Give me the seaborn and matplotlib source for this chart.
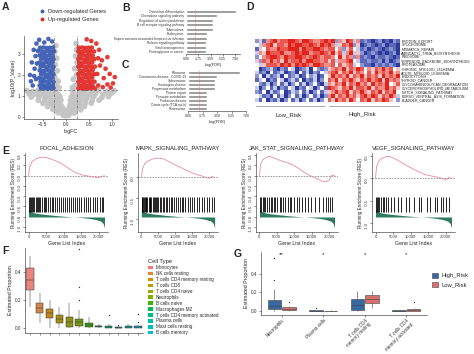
import numpy as np
import pandas as pd
import matplotlib
matplotlib.use("Agg")
import matplotlib.pyplot as plt
import seaborn as sns
from matplotlib.colors import LinearSegmentedColormap
from matplotlib.lines import Line2D
from matplotlib.patches import Patch
from matplotlib.ticker import FormatStrFormatter

# ---------------- data ----------------
# A: volcano (logFC, -log10 p)
ns_pts = [(-0.85, 1.25), (-0.72, 1.22), (-0.6, 1.27), (-0.48, 1.2), (-0.36, 1.26), (-0.22, 1.23), (0.16, 1.24),
          (0.3, 1.21), (0.42, 1.27), (0.55, 1.22), (0.7, 1.26), (0.88, 1.2), (1.05, 1.25),
          (-0.8, 1.1), (-0.65, 1.08), (-0.52, 1.12), (-0.4, 1.06), (-0.28, 1.1), (-0.17, 1.08), (0.15, 1.1),
          (0.27, 1.07), (0.38, 1.12), (0.5, 1.05), (0.64, 1.1), (0.8, 1.08), (0.98, 1.12),
          (-0.75, 0.95), (-0.58, 0.97), (-0.45, 0.93), (-0.33, 0.96), (-0.2, 0.94), (-0.13, 0.97), (0.12, 0.95),
          (0.22, 0.93), (0.34, 0.97), (0.46, 0.94), (0.6, 0.96), (0.78, 0.93), (0.92, 0.97),
          (-0.6, 0.8), (-0.46, 0.82), (-0.34, 0.78), (-0.22, 0.81), (-0.11, 0.79), (0.1, 0.8), (0.2, 0.82),
          (0.31, 0.78), (0.43, 0.81), (0.57, 0.79), (0.72, 0.8),
          (-0.5, 0.65), (-0.37, 0.66), (-0.25, 0.63), (-0.14, 0.65), (0.1, 0.64), (0.2, 0.66), (0.3, 0.63),
          (0.42, 0.65), (0.55, 0.66),
          (-0.4, 0.5), (-0.28, 0.52), (-0.17, 0.49), (-0.09, 0.5), (0.08, 0.51), (0.17, 0.49), (0.28, 0.52), (0.4, 0.5),
          (-0.28, 0.35), (-0.18, 0.36), (-0.1, 0.34), (-0.05, 0.36), (0.06, 0.35), (0.13, 0.33), (0.22, 0.36),
          (0.32, 0.34), (-0.17, 0.2), (-0.1, 0.21), (-0.04, 0.19), (0.04, 0.2), (0.1, 0.21), (0.18, 0.19),
          (-0.06, 0.08), (-0.02, 0.06), (0.02, 0.07), (0.06, 0.08),
          (-0.22, 1.5), (-0.17, 1.7), (-0.24, 1.9), (-0.19, 2.2), (-0.23, 2.5), (-0.2, 2.8), (-0.24, 3.1),
          (-0.22, 3.4), (0.2, 1.5), (0.16, 1.8), (0.23, 2.0), (0.19, 2.3), (0.24, 2.6), (0.21, 2.9), (0.23, 3.2),
          (0.22, 3.5), (-0.15, 1.4), (0.14, 1.4)]
down_pts = [(-0.56, 3.3), (-0.49, 3.31), (-0.42, 3.29), (-0.35, 3.3), (-0.28, 3.31),
            (-0.53, 3.12), (-0.46, 3.1), (-0.39, 3.14), (-0.32, 3.11), (-0.26, 3.13),
            (-0.57, 2.94), (-0.5, 2.96), (-0.43, 2.92), (-0.36, 2.95), (-0.29, 2.93),
            (-0.54, 2.76), (-0.47, 2.78), (-0.4, 2.74), (-0.33, 2.77), (-0.27, 2.75),
            (-0.58, 2.58), (-0.51, 2.56), (-0.44, 2.6), (-0.37, 2.57), (-0.3, 2.59),
            (-0.55, 2.4), (-0.48, 2.42), (-0.41, 2.38), (-0.34, 2.41), (-0.27, 2.39),
            (-0.57, 2.22), (-0.5, 2.2), (-0.43, 2.24), (-0.36, 2.21), (-0.29, 2.23),
            (-0.54, 2.04), (-0.47, 2.06), (-0.4, 2.02), (-0.33, 2.05), (-0.27, 2.03),
            (-0.58, 1.86), (-0.51, 1.84), (-0.44, 1.88), (-0.37, 1.85), (-0.3, 1.87),
            (-0.55, 1.68), (-0.48, 1.7), (-0.41, 1.66), (-0.34, 1.69), (-0.27, 1.67),
            (-0.57, 1.5), (-0.5, 1.52), (-0.43, 1.48), (-0.36, 1.51), (-0.29, 1.49),
            (-0.54, 1.36), (-0.47, 1.37), (-0.4, 1.35), (-0.33, 1.36), (-0.27, 1.38),
            (-0.64, 3.5), (-0.58, 3.68), (-0.47, 3.55), (-0.38, 3.72), (-0.7, 3.2), (-0.66, 2.9), (-0.74, 2.6),
            (-0.68, 2.3), (-0.78, 2.0), (-0.65, 1.8), (-0.72, 1.5), (-0.63, 2.55), (-0.69, 1.95), (-0.61, 3.15),
            (-0.76, 1.7), (-0.3, 3.6)]
up_pts = [(0.28, 3.3), (0.35, 3.31), (0.42, 3.29), (0.49, 3.3), (0.56, 3.31),
          (0.27, 3.12), (0.33, 3.1), (0.4, 3.14), (0.47, 3.11), (0.54, 3.13), (0.61, 3.12),
          (0.3, 2.94), (0.37, 2.96), (0.44, 2.92), (0.51, 2.95), (0.58, 2.93),
          (0.27, 2.76), (0.34, 2.78), (0.41, 2.74), (0.48, 2.77), (0.55, 2.75), (0.62, 2.76),
          (0.29, 2.58), (0.36, 2.56), (0.43, 2.6), (0.5, 2.57), (0.57, 2.59),
          (0.27, 2.4), (0.34, 2.42), (0.41, 2.38), (0.48, 2.41), (0.55, 2.39), (0.63, 2.4),
          (0.3, 2.22), (0.37, 2.2), (0.44, 2.24), (0.51, 2.21), (0.58, 2.23),
          (0.27, 2.04), (0.34, 2.06), (0.41, 2.02), (0.48, 2.05), (0.55, 2.03), (0.62, 2.04),
          (0.29, 1.86), (0.36, 1.84), (0.43, 1.88), (0.5, 1.85), (0.57, 1.87),
          (0.27, 1.68), (0.34, 1.7), (0.41, 1.66), (0.48, 1.69), (0.55, 1.67), (0.62, 1.68),
          (0.3, 1.5), (0.37, 1.52), (0.44, 1.48), (0.51, 1.51), (0.58, 1.49),
          (0.27, 1.36), (0.34, 1.37), (0.41, 1.35), (0.48, 1.36), (0.55, 1.38), (0.63, 1.36),
          (0.72, 3.2), (0.78, 2.7), (0.86, 2.3), (0.95, 2.05), (0.82, 1.85), (1.02, 1.6), (0.7, 1.5), (0.9, 2.85),
          (0.66, 3.5), (0.55, 3.62), (0.74, 2.45), (1.06, 1.9), (0.68, 2.05), (0.8, 1.42), (0.9, 1.55),
          (0.45, 3.7), (0.7, 2.8), (0.97, 1.4)]

# B / C: KEGG enrichment
b_terms = ["Osteoclast differentiation", "Chemokine signaling pathway", "Regulation of actin cytoskeleton",
           "B cell receptor signaling pathway", "Tuberculosis", "Endocytosis",
           "Kaposi sarcoma-associated herpesvirus infection", "Relaxin signaling pathway",
           "Viral carcinogenesis", "Proteoglycans in cancer"]
b_vals = [7.2, 4.4, 3.9, 3.9, 3.85, 2.95, 2.95, 2.9, 2.9, 2.9]
c_terms = ["Ribosome", "Coronavirus disease - COVID-19", "Spliceosome", "Huntington disease",
           "Propanoate metabolism", "Protein export", "Pyruvate metabolism", "Parkinson disease",
           "Citrate cycle (TCA cycle)", "Proteasome"]
c_vals = [6.3, 3.5, 3.2, 3.2, 3.2, 2.35, 2.3, 2.3, 2.3, 2.3]

# D: GSVA heatmap, 0 = deep blue, 4 = white, 8 = deep red (20 Low_Risk + 20 High_Risk samples)
d_rows = ["PROTEIN_EXPORT", "SPLICEOSOME", "MISMATCH_REPAIR", "AMINOACYL_TRNA_BIOSYNTHESIS", "RIBOSOME",
          "TERPENOID_BACKBONE_BIOSYNTHESIS", "PROTEASOME", "CHRONIC_MYELOID_LEUKEMIA",
          "ACUTE_MYELOID_LEUKEMIA", "ENDOCYTOSIS", "THYROID_CANCER", "GLYCOSAMINOGLYCAN_DEGRADATION",
          "GLYCEROPHOSPHOLIPID_METABOLISM", "NOTCH_SIGNALING_PATHWAY", "DORSO_VENTRAL_AXIS_FORMATION",
          "BLADDER_CANCER"]
heat_rows = ["25167867788768876678" "78265873612101201021",
             "43678577687887787687" "86357682501210120110",
             "15476687788868778876" "77462574312012101210",
             "36587778667878867787" "68573683520121010120",
             "24678876877887678767" "76485762612102112101",
             "52768675867786887767" "57366784311211202012",
             "43577768786878768876" "67475673421102121210",
             "40123102143012304212" "56768576874657686745",
             "31204123012041302143" "67857685764758676856",
             "24031230412301423014" "58676857685767586768",
             "13402143023140213024" "76857686576867858676",
             "42130241302413024103" "65768576867586768457",
             "30241302143021430241" "87657685776857668675",
             "21403124013241302413" "56867857686576857684",
             "43120413024130241302" "68576867578687576863",
             "31402130241302413024" "75867586476857687542"]

# E: GSEA running enrichment score
gsea_titles = ["FOCAL_ADHESION", "MAPK_SIGNALING_PATHWAY", "JAK_STAT_SIGNALING_PATHWAY", "VEGF_SIGNALING_PATHWAY"]
es_index = [0, 300, 1000, 2000, 3000, 4000, 5000, 6500, 8000, 9500, 11000, 12500, 14000, 15500, 17000,
            18000, 19000, 20000, 20800, 21600]
es_focal = [0, 0.16, 0.27, 0.32, 0.35, 0.36, 0.35, 0.32, 0.28, 0.23, 0.16, 0.09, 0.04, 0.01, -0.01,
            -0.03, -0.03, -0.04, -0.02, 0.0]
es_mapk = [0, 0.2, 0.33, 0.39, 0.43, 0.45, 0.46, 0.44, 0.38, 0.32, 0.26, 0.2, 0.14, 0.09, 0.05,
           0.03, 0.0, -0.02, 0.02, 0.0]
es_jak = [0, 0.22, 0.31, 0.36, 0.37, 0.35, 0.32, 0.28, 0.25, 0.21, 0.15, 0.08, 0.02, -0.03, -0.08,
          -0.11, -0.12, -0.1, 0.01, 0.0]
es_vegf = [0, 0.27, 0.4, 0.46, 0.49, 0.49, 0.46, 0.4, 0.33, 0.26, 0.2, 0.14, 0.09, 0.06, 0.04,
           0.02, 0.0, -0.03, 0.02, 0.0]
hits_focal = [150, 400, 700, 900, 1300, 1600, 2000, 2300, 2700, 3100, 3400, 3800, 4300, 4700, 5100, 5600,
              6200, 6700, 7100, 7600, 8200, 8700, 9300, 9800, 10400, 10900, 11500, 12000, 12600, 13100,
              13800, 14400, 15000, 15700, 16300, 17000, 17600, 18300, 19000, 19600, 20200, 20800, 21300]
hits_mapk = [100, 300, 550, 800, 1000, 1300, 1500, 1800, 2100, 2400, 2600, 2900, 3300, 3600, 4000, 4300,
             4700, 5000, 5400, 5900, 6300, 6800, 7200, 7700, 8100, 8600, 9100, 9700, 10200, 10800, 11300,
             11900, 12400, 13000, 13700, 14300, 15000, 15600, 16300, 17100, 17800, 18500, 19300, 20000,
             20700, 21300]
hits_jak = [200, 500, 900, 1200, 1700, 2100, 2600, 3200, 3700, 4100, 4400, 5000, 5800, 6300, 6900, 7400,
            8100, 8800, 9200, 9900, 10700, 11400, 12200, 13100, 14000, 14900, 16000, 17200, 18400, 19200,
            19700, 20300, 20900]
hits_vegf = [150, 450, 800, 1100, 1500, 2000, 2500, 3000, 3600, 4500, 5300, 6500, 7200, 8600, 9400, 10800,
             12300, 13000, 14500, 15500, 16800, 17400, 18600, 19300, 20100, 20800]
rank_index = [0, 200, 600, 1500, 3000, 5000, 8000, 11000, 13000, 15000, 17000, 19000, 20500, 21200, 21600]
rank_metric = [1.0, 0.78, 0.6, 0.46, 0.36, 0.27, 0.15, 0.05, 0.0, -0.06, -0.14, -0.27, -0.45, -0.7, -1.2]

# F: immune cell proportions
f_cells = ["Monocytes", "NK cells resting", "T cells CD4 memory resting", "T cells CD8", "T cells CD4 naive",
           "Neutrophils", "B cells naive", "Macrophages M2", "T cells CD4 memory activated", "Plasma cells",
           "Mast cells resting", "B cells memory"]
f_values = [
    [0.15, 0.20, 0.24, 0.27, 0.29, 0.31, 0.34, 0.37, 0.40, 0.43, 0.46, 0.49, 0.51],
    [0.035, 0.07, 0.09, 0.11, 0.12, 0.13, 0.14, 0.15, 0.16, 0.18, 0.20, 0.22, 0.25],
    [0.0, 0.03, 0.05, 0.07, 0.08, 0.095, 0.105, 0.115, 0.125, 0.135, 0.15, 0.17, 0.20],
    [0.0, 0.01, 0.025, 0.036, 0.045, 0.055, 0.064, 0.072, 0.082, 0.093, 0.11, 0.13, 0.15],
    [0.0, 0.002, 0.005, 0.01, 0.02, 0.035, 0.045, 0.055, 0.068, 0.08, 0.1, 0.14, 0.18],
    [0.0, 0.004, 0.008, 0.012, 0.015, 0.025, 0.033, 0.04, 0.045, 0.052, 0.058, 0.062, 0.065, 0.13, 0.2, 0.29, 0.56],
    [0.0, 0.001, 0.003, 0.005, 0.01, 0.015, 0.02, 0.024, 0.03, 0.035, 0.045, 0.06, 0.078],
    [0.0, 0.002, 0.004, 0.005, 0.008, 0.01, 0.012, 0.014, 0.016, 0.018, 0.022, 0.026, 0.03],
    [0.0, 0.001, 0.002, 0.004, 0.006, 0.008, 0.01, 0.012, 0.015, 0.018, 0.022, 0.028, 0.093],
    [0.0, 0.0, 0.0005, 0.001, 0.002, 0.003, 0.004, 0.005, 0.006, 0.008, 0.01, 0.014, 0.022],
    [0.0, 0.0, 0.001, 0.002, 0.004, 0.006, 0.008, 0.01, 0.012, 0.015, 0.018, 0.024, 0.03],
    [0.0, 0.0, 0.001, 0.002, 0.004, 0.006, 0.008, 0.01, 0.012, 0.015, 0.022, 0.04, 0.10],
]
f_colors = ["#F8766D", "#EA8331", "#D89000", "#C09B00", "#A3A500", "#7CAE00", "#39B600", "#00BB4E",
            "#00BF7D", "#00C1A3", "#00BFC4", "#00BAE0"]

# G: proportions by risk group
g_cells = ["Neutrophils", "Plasma cells", "T cells CD4\nmemory resting", "T cells CD4\nmemory activated"]
g_high = [
    [0.0, 0.005, 0.01, 0.015, 0.02, 0.03, 0.04, 0.05, 0.06, 0.07, 0.085, 0.1, 0.115, 0.15, 0.24, 0.33, 0.57],
    [0.0, 0.0, 0.001, 0.002, 0.003, 0.004, 0.005, 0.006, 0.008, 0.01, 0.013, 0.018, 0.03],
    [0.0, 0.003, 0.006, 0.01, 0.03, 0.05, 0.07, 0.085, 0.1, 0.125, 0.16, 0.19, 0.22],
    [0.0, 0.0, 0.001, 0.002, 0.003, 0.004, 0.005, 0.006, 0.007, 0.008, 0.01, 0.012, 0.015],
]
g_low = [
    [0.0, 0.003, 0.006, 0.01, 0.015, 0.02, 0.025, 0.03, 0.038, 0.045, 0.05, 0.06, 0.1],
    [0.0, 0.0, 0.0, 0.001, 0.001, 0.002, 0.003, 0.003, 0.004, 0.005, 0.006, 0.007, 0.008],
    [0.03, 0.06, 0.075, 0.09, 0.105, 0.12, 0.135, 0.145, 0.155, 0.17, 0.185, 0.2, 0.22],
    [0.0, 0.002, 0.003, 0.005, 0.008, 0.011, 0.015, 0.018, 0.021, 0.025, 0.03, 0.036, 0.1],
]
g_signif = ["**", "*", "*", "*"]

# ---------------- figure ----------------
sns.set_theme(style="ticks")
plt.rcParams["font.family"] = ["Liberation Sans", "DejaVu Sans"]
plt.rcParams["axes.linewidth"] = 0.4

W, H = 474, 354
fig = plt.figure(figsize=(W / 100, H / 100), dpi=100)


def box(l, t, r, b):
    return [l / W, 1 - b / H, (r - l) / W, (b - t) / H]


def tidy(ax, size=3.2):
    sns.despine(ax=ax)
    ax.tick_params(length=1.5, width=0.4, pad=1, labelsize=size, colors="#333333")


def panel(x, y, s):
    fig.text(x / W, 1 - y / H, s, fontsize=7.5, fontweight="bold", va="top", ha="left")


# A: volcano
axA = fig.add_axes(box(24, 36, 118, 119))
vdf = pd.DataFrame(ns_pts + down_pts + up_pts, columns=["logFC", "logp"])
vdf["group"] = ["ns"] * len(ns_pts) + ["down"] * len(down_pts) + ["up"] * len(up_pts)
vdf["size"] = [2.0] * len(ns_pts) + [1.0] * (len(down_pts) + len(up_pts))
sns.scatterplot(data=vdf, x="logFC", y="logp", hue="group", size="size", sizes=(11, 18),
                palette={"ns": "#c4c4c4", "down": "#3f5fb5", "up": "#e3302c"},
                linewidth=0, alpha=0.95, legend=False, ax=axA)
axA.axhline(1.3, ls=(0, (4, 3)), color="#555555", lw=0.45)
axA.axvline(-0.25, ls=(0, (4, 2, 1, 2)), color="#555555", lw=0.45)
axA.axvline(0.25, ls=(0, (4, 2, 1, 2)), color="#555555", lw=0.45)
axA.set_xlim(-0.91, 1.13)
axA.set_ylim(-0.1, 3.86)
axA.set_xticks([-0.5, 0.0, 0.5, 1.0])
axA.set_yticks([0, 1, 2, 3])
axA.set_xlabel("logFC", fontsize=3.8, labelpad=1)
axA.set_ylabel("-log10(P_Value)", fontsize=3.8, labelpad=1.5)
tidy(axA, 3.4)
handles = [Line2D([], [], marker="o", ls="", color="#3f5fb5", markersize=1.8),
           Line2D([], [], marker="o", ls="", color="#e3302c", markersize=1.8)]
axA.legend(handles, ["Down-regulated Genes", "Up-regulated Genes"], loc="upper left",
           bbox_to_anchor=(36 / W, 1 - 6 / H), bbox_transform=fig.transFigure, frameon=False,
           fontsize=4.1, handlelength=1.0, handletextpad=0.6, labelspacing=0.5, borderpad=0)


# B and C: bars
def bars(rect, terms, vals, xmax, ticks):
    ax = fig.add_axes(box(*rect))
    df = pd.DataFrame({"term": terms, "val": vals})
    sns.barplot(data=df, y="term", x="val", color="#8a8a8a", width=0.72, ax=ax, orient="h")
    ax.axvline(1.3, color="#e07070", lw=0.4, ls=(0, (2, 1)))
    ax.set_xlim(0, xmax)
    ax.set_xticks(ticks)
    ax.set_xticklabels(["%.2f" % t for t in ticks])
    ax.set_ylabel("")
    ax.set_xlabel("-log(FDR)", fontsize=2.8, labelpad=1)
    tidy(ax, 2.6)
    ax.spines["left"].set_visible(False)
    ax.tick_params(axis="y", length=0, labelsize=2.3, pad=1.5)
    return ax


bars((186, 9, 240, 54), b_terms, b_vals, 7.7, [0, 1.75, 3.5, 5.25, 7.0])
bars((188, 70, 246, 111), c_terms, c_vals, 7.0, [0, 1.75, 3.5, 5.25, 7.0])

# D: heatmap
axD = fig.add_axes(box(255, 39, 400, 102))
heat = np.array([[(int(c) - 4) / 4 for c in row] for row in heat_rows])
cmap = LinearSegmentedColormap.from_list("bwr2", ["#2b3a9c", "#8b95d4", "#ffffff", "#f18d88", "#e2231c"])
sns.heatmap(heat, ax=axD, cmap=cmap, vmin=-1, vmax=1, cbar=False, xticklabels=False, yticklabels=d_rows)
axD.yaxis.tick_right()
axD.tick_params(axis="y", length=0, pad=1, labelsize=2.5, labelrotation=0)
for x0, x1, lab in [(0.2, 19.2, "Low_Risk"), (20.3, 39.8, "High_Risk")]:
    axD.plot([x0, x1], [17.0, 17.0], color="#8a8a8a", lw=0.5, clip_on=False)
    axD.text((x0 + x1) / 2 - 0.4, 19.3, lab, ha="center", va="center", fontsize=4.3)

# E: GSEA
e_rects = [(25, 153, 108, 232), (138, 153, 218, 232), (256, 153, 338, 232), (372, 153, 455, 232)]
e_curves = [es_focal, es_mapk, es_jak, es_vegf]
e_hits = [hits_focal, hits_mapk, hits_jak, hits_vegf]
e_ylims = [(-1.1, 0.44), (-1.3, 0.58), (-1.1, 0.44), (-1.2, 0.57)]
e_ticks = [np.arange(-1.0, 0.41, 0.2), [-1.0, -0.5, 0.0], np.arange(-1.0, 0.41, 0.2), [-1.0, -0.5, 0.0, 0.5]]
for rect, title, es, hits, yl, yt in zip(e_rects, gsea_titles, e_curves, e_hits, e_ylims, e_ticks):
    ax = fig.add_axes(box(*rect))
    tr = ax.get_xaxis_transform()
    base = 0.19
    ax.fill_between(rank_index, base, base + np.array(rank_metric) * 0.115, color="#2d7a5c",
                    lw=0, transform=tr)
    ax.vlines(hits, 0.255, 0.445, color="black", lw=0.6, transform=tr)
    ax.axhline(0, ls=(0, (3, 2)), color="#555555", lw=0.4)
    sns.lineplot(x=es_index, y=es, ax=ax, color="#e8819a", lw=0.55)
    ax.set_xlim(-1000, 22600)
    ax.set_ylim(*yl)
    ax.set_yticks(yt)
    ax.yaxis.set_major_formatter(FormatStrFormatter("%.1f"))
    ax.set_xticks([0, 5000, 10000, 15000, 20000])
    ax.set_title(title, fontsize=4.3, pad=2.5)
    ax.set_xlabel("Gene List Index", fontsize=3.8, labelpad=1)
    ax.set_ylabel("Running Enrichment Score (RES)", fontsize=3.3, labelpad=1)
    tidy(ax, 3.0)
    ax.tick_params(axis="y", labelrotation=90)

# F: cell proportions
axF = fig.add_axes(box(25, 248, 143, 333))
fdf = pd.DataFrame([(c, v) for c, vals in zip(f_cells, f_values) for v in vals], columns=["cell", "prop"])
sns.boxplot(data=fdf, x="cell", y="prop", hue="cell", palette=f_colors, legend=False, ax=axF,
            width=0.75, linewidth=0.35, fliersize=0.9, showcaps=False,
            flierprops=dict(marker="o", markerfacecolor="#222222", markeredgecolor="none"))
axF.set_ylim(-0.035, 0.57)
axF.set_yticks([0.0, 0.2, 0.4])
axF.yaxis.set_major_formatter(FormatStrFormatter("%.1f"))
axF.set_xticks(range(len(f_cells)))
axF.set_xticklabels([])
axF.set_xlabel("")
axF.set_ylabel("Estimated Proportion", fontsize=3.8, labelpad=1.5)
tidy(axF, 3.4)
f_handles = [Patch(facecolor=c, edgecolor="none") for c in f_colors]
axF.legend(f_handles, f_cells, title="Cell Type", loc="upper left", bbox_to_anchor=(146 / W, 1 - 257 / H),
           bbox_transform=fig.transFigure, frameon=False, fontsize=3.3, title_fontsize=4.2,
           handlelength=1.1, handleheight=0.8, handletextpad=0.5, labelspacing=0.2, borderpad=0,
           alignment="left")

# G: risk groups
axG = fig.add_axes(box(261, 252, 427, 315))
rows = []
for c, hv, lv in zip(g_cells, g_high, g_low):
    rows += [(c, "High_Risk", v) for v in hv]
    rows += [(c, "Low_Risk", v) for v in lv]
gdf = pd.DataFrame(rows, columns=["cell", "group", "prop"])
sns.boxplot(data=gdf, x="cell", y="prop", hue="group", hue_order=["High_Risk", "Low_Risk"],
            palette={"High_Risk": "#2767b0", "Low_Risk": "#e8625d"}, ax=axG, width=0.7, gap=0.1,
            linewidth=0.4, fliersize=0.9, showcaps=False,
            flierprops=dict(marker="o", markerfacecolor="#222222", markeredgecolor="none"))
for i, s in enumerate(g_signif):
    axG.text(i, 0.6, s, ha="center", va="center", fontsize=4.5)
axG.set_ylim(-0.04, 0.63)
axG.set_yticks([0.0, 0.2, 0.4])
axG.yaxis.set_major_formatter(FormatStrFormatter("%.1f"))
axG.set_xlabel("")
axG.set_ylabel("Estimated Proportion", fontsize=3.8, labelpad=1.5)
tidy(axG, 3.4)
axG.tick_params(axis="x", pad=0.5)
for lab in axG.get_xticklabels():
    lab.set_rotation(45)
    lab.set_ha("right")
    lab.set_va("top")
    lab.set_rotation_mode("anchor")
    lab.set_fontsize(3.3)
axG.legend(loc="upper left", bbox_to_anchor=(429 / W, 1 - 270 / H), bbox_transform=fig.transFigure,
           frameon=False, fontsize=4.2, handlelength=1.1, handleheight=0.9, handletextpad=0.5,
           labelspacing=0.6, borderpad=0)

panel(2, 2, "A")
panel(122, 3, "B")
panel(122, 60, "C")
panel(246, 2, "D")
panel(2, 146, "E")
panel(2, 246, "F")
panel(234, 249, "G")

fig.savefig("out.png", dpi=100)
